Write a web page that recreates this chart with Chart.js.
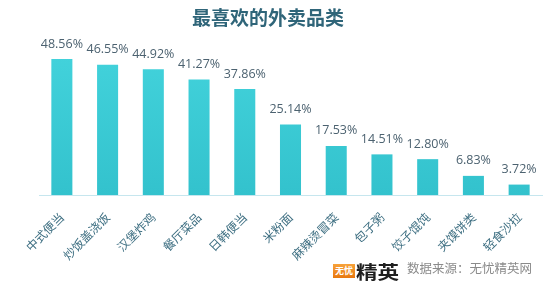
<!DOCTYPE html>
<html>
<head>
<meta charset="utf-8">
<script src="https://cdn.jsdelivr.net/npm/chart.js@4"></script>
<style>
  body { margin: 0; background: #fff; }
  #wrap { position: relative; width: 548px; height: 281px; }
  #judul { position: absolute; left: 168px; width: 200px; top: 4px; text-align: center; font-family: "Noto Sans CJK SC", sans-serif; font-size: 19px; font-weight: bold; color: #2f6579; line-height: 26px; }
  #logo { position: absolute; left: 333px; top: 256px; height: 18px; font-family: "Noto Sans CJK SC", sans-serif; white-space: nowrap; }
  #logo .box { display: inline-block; vertical-align: middle; background: linear-gradient(#f7a23a, #e8780f); color: #fff; font-size: 9px; font-weight: bold; line-height: 14px; padding: 0 2px; }
  #logo .big { display: inline-block; vertical-align: middle; font-size: 18px; font-weight: bold; color: #1f1f1f; line-height: 18px; margin-left: 1px; transform: scaleX(1.2); transform-origin: left center; }
  #src { position: absolute; left: 407px; top: 258px; font-family: "Noto Sans CJK SC", sans-serif; font-size: 12.5px; color: #8a8a8a; white-space: nowrap; }
</style>
</head>
<body>
<div id="wrap">
  <canvas id="grafik" width="548" height="281"></canvas>
  <div id="judul">最喜欢的外卖品类</div>
  <div id="logo"><span class="box">无忧</span><span class="big">精英</span></div>
  <div id="src">数据来源：无忧精英网</div>
</div>
<script>
const kategori = ["中式便当", "炒饭盖浇饭", "汉堡炸鸡", "餐厅菜品", "日韩便当", "米粉面", "麻辣烫冒菜", "包子粥", "饺子馄饨", "夹馍饼类", "轻食沙拉"];
const persen = [48.56, 46.55, 44.92, 41.27, 37.86, 25.14, 17.53, 14.51, 12.80, 6.83, 3.72];

// label persen di atas batang
const labelAtas = {
  id: "labelAtas",
  afterDatasetsDraw(chart) {
    const ctx = chart.ctx;
    const meta = chart.getDatasetMeta(0);
    ctx.save();
    ctx.font = "12.5px 'Open Sans', sans-serif";
    ctx.fillStyle = "#4c6270";
    ctx.textAlign = "center";
    ctx.textBaseline = "middle";
    meta.data.forEach((bar, i) => {
      ctx.fillText(persen[i].toFixed(2) + "%", bar.x, bar.y - 15);
    });
    ctx.restore();
  }
};

const ctx = document.getElementById("grafik").getContext("2d");
const grad = ctx.createLinearGradient(0, 55, 0, 195);
grad.addColorStop(0, "#42d2db");
grad.addColorStop(1, "#33c2cd");

new Chart(ctx, {
  type: "bar",
  data: {
    labels: kategori,
    datasets: [{
      data: persen,
      backgroundColor: grad,
      barPercentage: 0.46,
      categoryPercentage: 1,
    }],
  },
  options: {
    responsive: false,
    animation: false,
    layout: { padding: { left: 39, right: 6, top: 55, bottom: 0 } },
    plugins: {
      legend: { display: false },
      tooltip: { enabled: false },
      title: { display: false },
    },
    scales: {
      y: { display: false, min: 0, max: 50 },
      x: {
        grid: { display: false },
        border: { color: "#c6e6ee" },
        ticks: {
          color: "#3e6f82",
          font: { family: "'Noto Sans CJK SC', sans-serif", size: 12 },
          minRotation: 45,
          maxRotation: 45,
          padding: 7,
        },
        afterFit(scale) { scale.height = 86; },
      },
    },
  },
  plugins: [labelAtas],
});
</script>
</body>
</html>
